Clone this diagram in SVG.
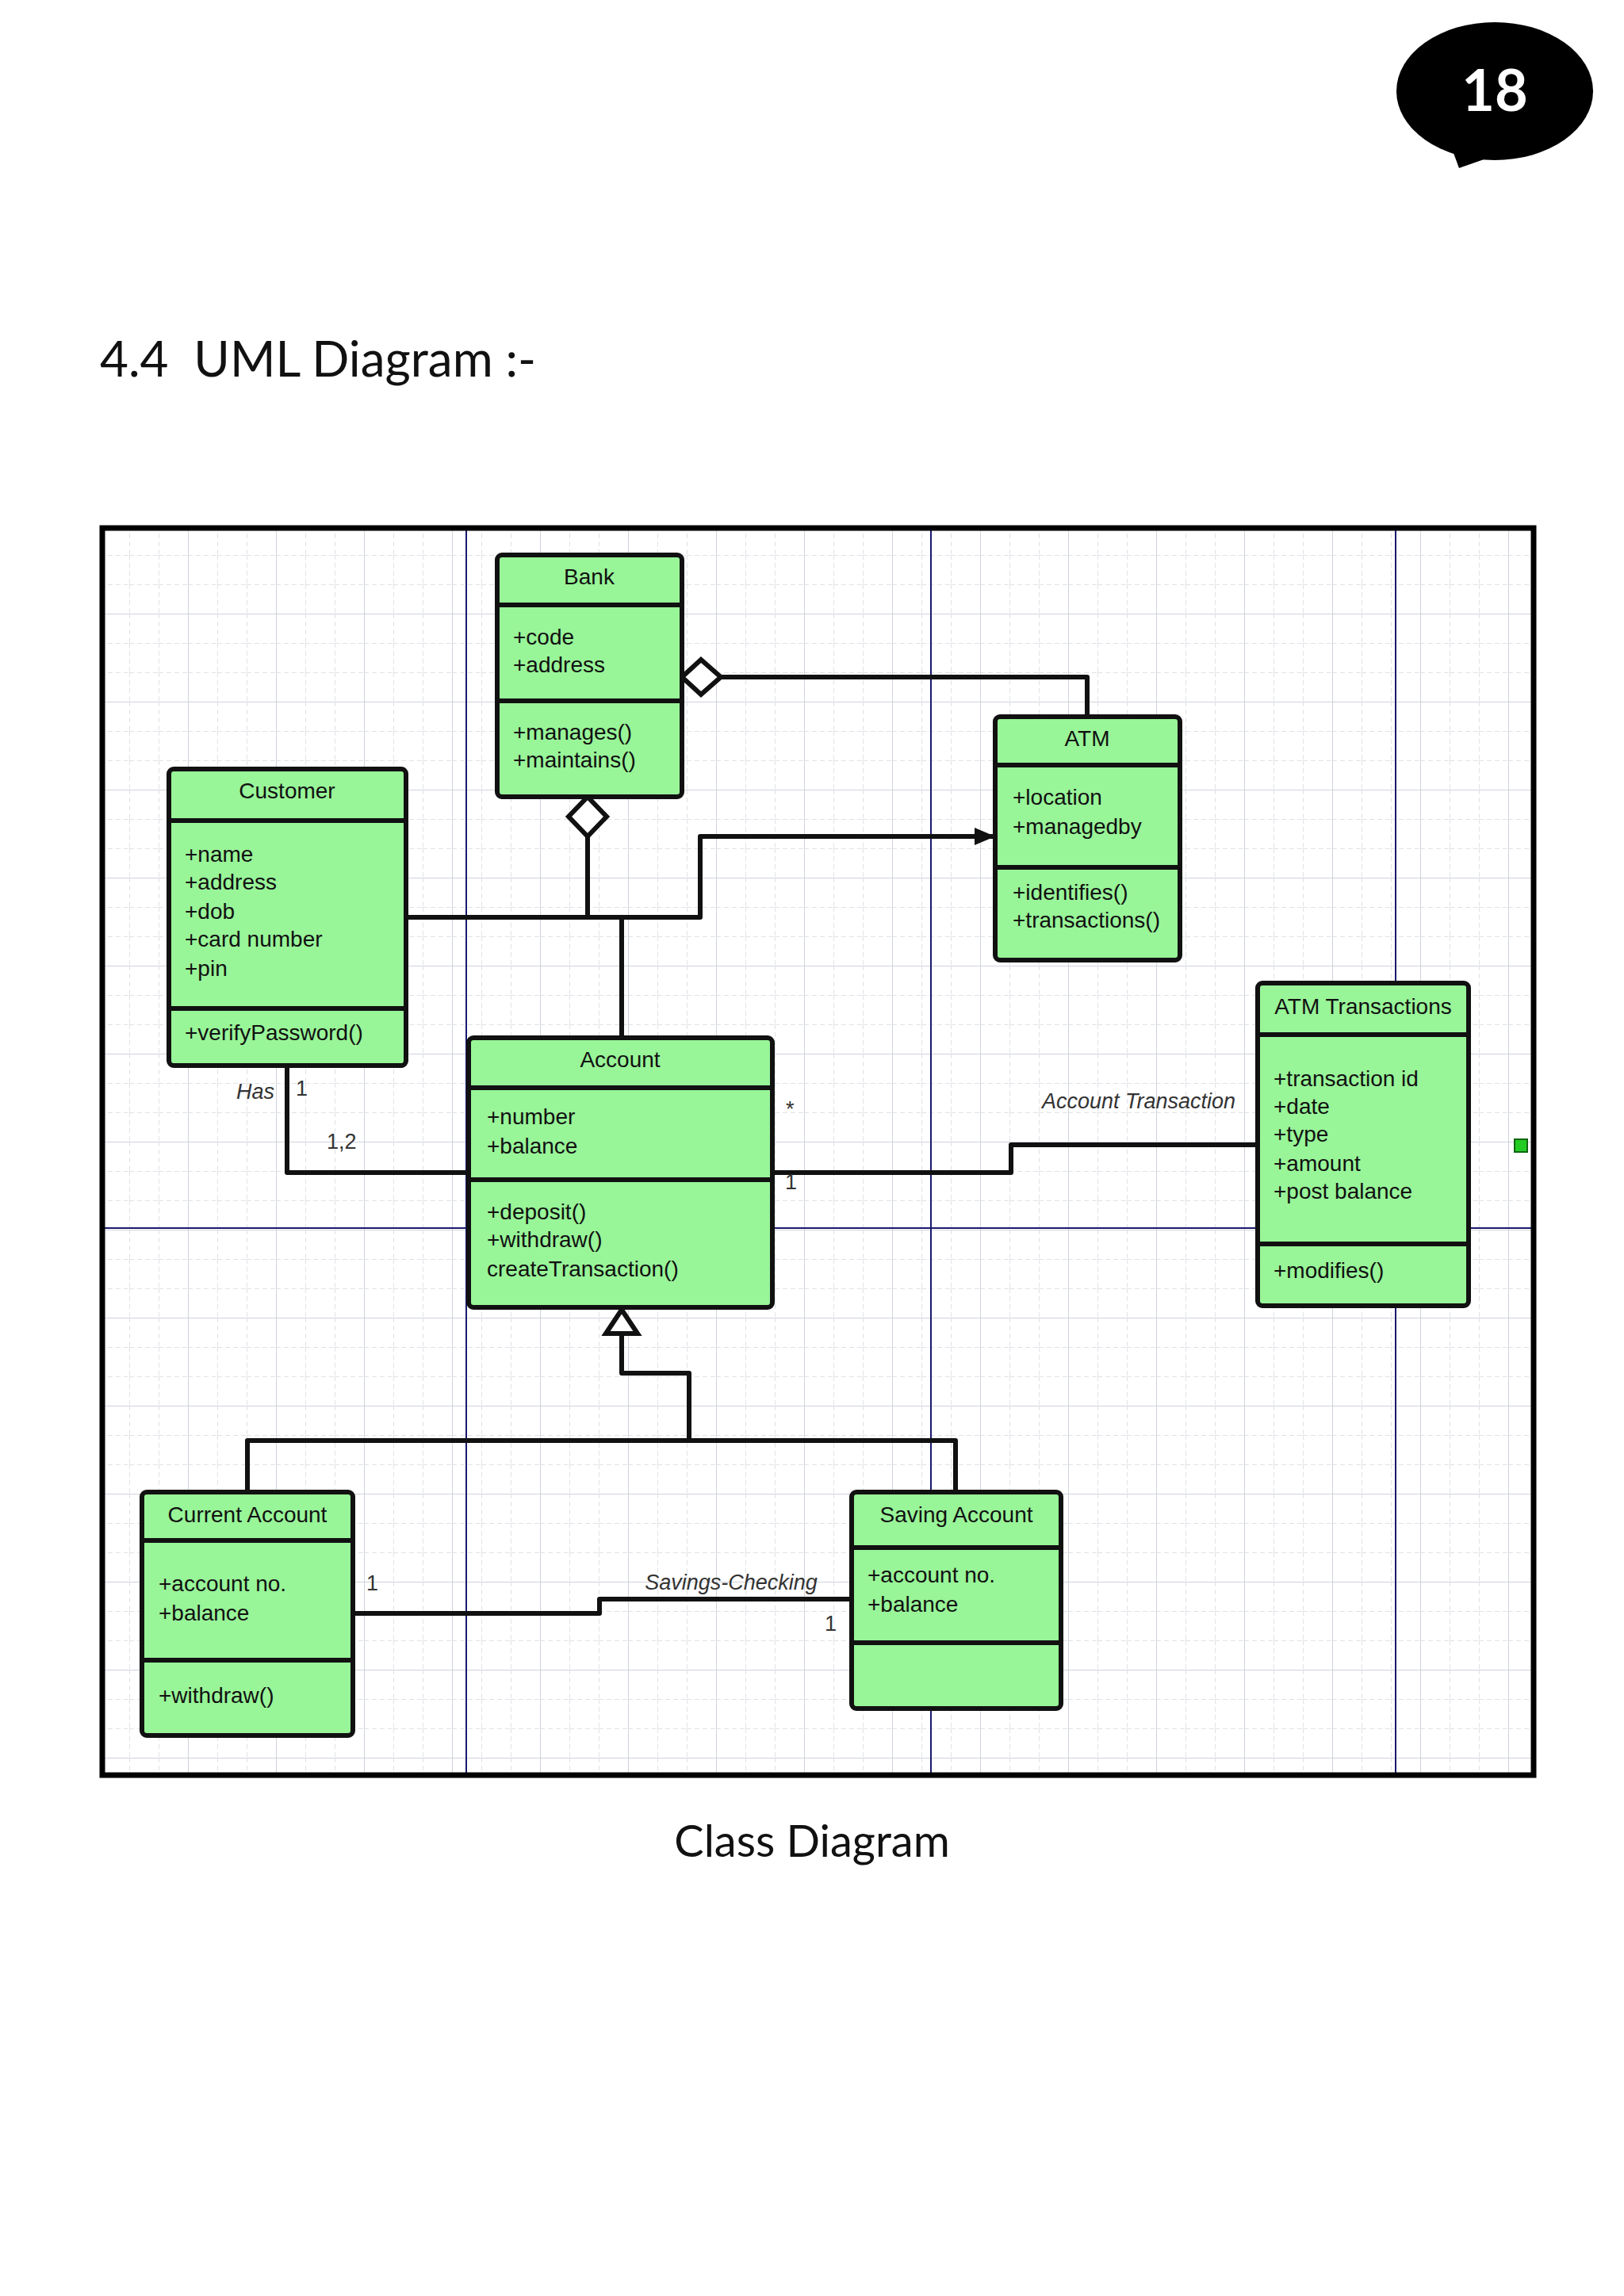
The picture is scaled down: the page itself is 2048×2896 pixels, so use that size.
<svg xmlns="http://www.w3.org/2000/svg" width="2048" height="2896" viewBox="0 0 2048 2896">
<defs>
<pattern id="minor" x="126" y="663" width="37" height="37" patternUnits="userSpaceOnUse">
<path d="M0 0V37M0 0H37" fill="none" stroke="#d6d9e0" stroke-width="1.5" stroke-dasharray="6 4"/>
</pattern>
<pattern id="major" x="126" y="663" width="111" height="111" patternUnits="userSpaceOnUse">
<path d="M0 0V111M0 0H111" fill="none" stroke="#cfd3db" stroke-width="2"/>
</pattern>
<marker id="arr" markerWidth="26" markerHeight="22" refX="24" refY="11" orient="auto" markerUnits="userSpaceOnUse" viewBox="0 0 26 22"><path d="M0 0L26 11L0 22z" fill="#111"/></marker>
</defs>
<style>
.box{fill:#98f598;stroke:#111;stroke-width:6}
.div{stroke:#111;stroke-width:6}
.t{font-family:"Liberation Sans",Arial,sans-serif;font-size:28px;fill:#111}
.c{text-anchor:middle}
.ln{fill:none;stroke:#111;stroke-width:6;stroke-linejoin:round}
.lab{font-family:"Liberation Sans",Arial,sans-serif;font-size:27px;fill:#333}
.it{font-style:italic}
</style>
<rect width="2048" height="2896" fill="#fff"/>
<g id="header">
<ellipse cx="1885" cy="115" rx="124" ry="87" fill="#000"/>
<path d="M1830 185L1840 212L1880 198z" fill="#000"/>
<text x="1885" y="140" text-anchor="middle" font-family="Lato,'Open Sans',sans-serif" font-weight="bold" font-size="72" fill="#fff">18</text>
<text x="126" y="475" xml:space="preserve" font-family="Lato,'Open Sans',sans-serif" font-size="62" fill="#111">4.4  UML Diagram :-</text>
</g>
<g id="frame">
<rect x="129" y="666" width="1805" height="1573" fill="#fff"/>
<rect x="129" y="666" width="1805" height="1573" fill="url(#minor)"/>
<rect x="129" y="666" width="1805" height="1573" fill="url(#major)"/>
<path d="M588 666V2239M1174 666V2239M1760 666V2239M129 1549H1934" stroke="#1a1a6e" stroke-width="2"/>
<rect x="129" y="666" width="1805" height="1573" fill="none" stroke="#000" stroke-width="7"/>
<rect x="1910" y="1437" width="16" height="16" fill="#22cc22" stroke="#116611" stroke-width="2"/>
</g>
<g id="connectors">
<path class="ln" d="M909 854H1371V904"/>
<path d="M860 854L884 832L909 854L884 876z" fill="#fff" stroke="#111" stroke-width="6"/>
<path class="ln" d="M741 1055V1157"/>
<path d="M741 1005L765 1030L741 1055L717 1030z" fill="#fff" stroke="#111" stroke-width="6"/>
<path class="ln" d="M512 1157H883V1055H1253" marker-end="url(#arr)"/>
<path class="ln" d="M784 1157V1309"/>
<path class="ln" d="M362 1344V1479H591"/>
<path class="ln" d="M974 1479H1275V1444H1586"/>
<path class="ln" d="M784 1682V1732H869V1817M312 1882V1817H1205V1882"/>
<path d="M784 1652L804 1682H764z" fill="#fff" stroke="#111" stroke-width="6"/>
<path class="ln" d="M445 2035H756V2017H1074"/>
<text class="lab it" x="322" y="1386" text-anchor="middle">Has</text>
<text class="lab" x="373" y="1382">1</text>
<text class="lab" x="412" y="1449">1,2</text>
<text class="lab" x="991" y="1408">*</text>
<text class="lab" x="990" y="1500">1</text>
<text class="lab it" x="1436" y="1398" text-anchor="middle">Account Transaction</text>
<text class="lab" x="462" y="2006">1</text>
<text class="lab" x="1040" y="2057">1</text>
<text class="lab it" x="922" y="2005" text-anchor="middle">Savings-Checking</text>
</g>
<g id="bank">
<rect class="box" x="627" y="700" width="233" height="305" rx="6"/>
<path class="div" d="M627 763H860M627 884H860"/>
<text class="t c" x="743" y="737">Bank</text>
<text class="t" x="647" y="813">+code</text><text class="t" x="647" y="848">+address</text>
<text class="t" x="647" y="933">+manages()</text><text class="t" x="647" y="968">+maintains()</text>
</g>
<g id="atm">
<rect class="box" x="1255" y="904" width="233" height="307" rx="6"/>
<path class="div" d="M1255 965H1488M1255 1094H1488"/>
<text class="t c" x="1371" y="941">ATM</text>
<text class="t" x="1277" y="1015">+location</text><text class="t" x="1277" y="1052">+managedby</text>
<text class="t" x="1277" y="1135">+identifies()</text><text class="t" x="1277" y="1170">+transactions()</text>
</g>
<g id="customer">
<rect class="box" x="213" y="970" width="299" height="374" rx="6"/>
<path class="div" d="M213 1035H512M213 1272H512"/>
<text class="t c" x="362" y="1007">Customer</text>
<text class="t" x="233" y="1087">+name</text><text class="t" x="233" y="1122">+address</text><text class="t" x="233" y="1159">+dob</text><text class="t" x="233" y="1194">+card number</text><text class="t" x="233" y="1231">+pin</text>
<text class="t" x="233" y="1312">+verifyPassword()</text>
</g>
<g id="account">
<rect class="box" x="591" y="1309" width="383" height="340" rx="6"/>
<path class="div" d="M591 1372H974M591 1488H974"/>
<text class="t c" x="782" y="1346">Account</text>
<text class="t" x="614" y="1418">+number</text><text class="t" x="614" y="1455">+balance</text>
<text class="t" x="614" y="1538">+deposit()</text><text class="t" x="614" y="1573">+withdraw()</text><text class="t" x="614" y="1610">createTransaction()</text>
</g>
<g id="atm-transactions">
<rect class="box" x="1586" y="1240" width="266" height="407" rx="6"/>
<path class="div" d="M1586 1305H1852M1586 1569H1852"/>
<text class="t c" x="1719" y="1279">ATM Transactions</text>
<text class="t" x="1606" y="1370">+transaction id</text><text class="t" x="1606" y="1405">+date</text><text class="t" x="1606" y="1440">+type</text><text class="t" x="1606" y="1477">+amount</text><text class="t" x="1606" y="1512">+post balance</text>
<text class="t" x="1606" y="1612">+modifies()</text>
</g>
<g id="current-account">
<rect class="box" x="179" y="1882" width="266" height="307" rx="6"/>
<path class="div" d="M179 1943H445M179 2094H445"/>
<text class="t c" x="312" y="1920">Current Account</text>
<text class="t" x="200" y="2007">+account no.</text><text class="t" x="200" y="2044">+balance</text>
<text class="t" x="200" y="2148">+withdraw()</text>
</g>
<g id="saving-account">
<rect class="box" x="1074" y="1882" width="264" height="273" rx="6"/>
<path class="div" d="M1074 1952H1338M1074 2072H1338"/>
<text class="t c" x="1206" y="1920">Saving Account</text>
<text class="t" x="1094" y="1996">+account no.</text><text class="t" x="1094" y="2033">+balance</text>
</g>
<text x="1024" y="2342" text-anchor="middle" font-family="Lato,'Open Sans',sans-serif" font-size="56" fill="#111">Class Diagram</text>
</svg>
